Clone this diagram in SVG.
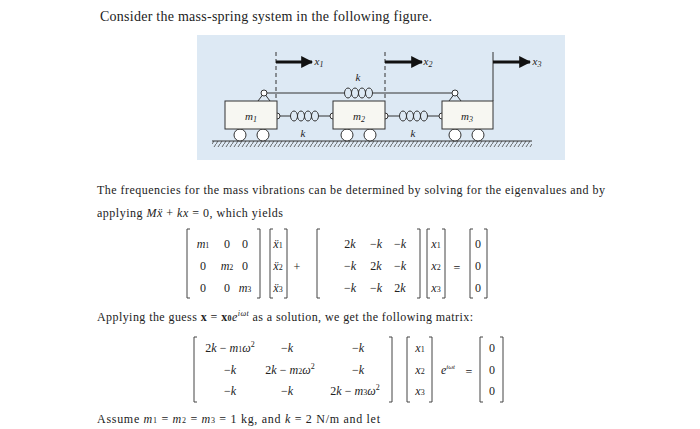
<svg xmlns="http://www.w3.org/2000/svg" width="700" height="429" viewBox="0 0 700 429">
<style>
text{font-family:"Liberation Serif","DejaVu Serif",serif;fill:#222}
.t{font-size:12px}
.m{font-size:12px;text-anchor:middle}
.i{font-style:italic}
.br{fill:none;stroke:#444;stroke-width:1}
.ln{stroke:#333;stroke-width:1;fill:none}
.box{fill:#f7f7f2;stroke:#333;stroke-width:1}
.ring{fill:#fff;stroke:#333;stroke-width:1}
.coil{fill:none;stroke:#333;stroke-width:1}
.fl{font-size:11px;font-style:italic;text-anchor:middle}
</style>
<defs>
<marker id="ah" viewBox="0 0 10 10" refX="9" refY="5" markerWidth="4" markerHeight="4" orient="auto"><path d="M0,0L10,5L0,10z" fill="#111"/></marker>
<pattern id="hatch" width="4" height="6" patternUnits="userSpaceOnUse"><path d="M0,6L4,0" stroke="#444" stroke-width="0.8"/></pattern>
<g id="spr"><ellipse class="coil" cx="4" cy="0" rx="3.5" ry="5"/><ellipse class="coil" cx="11" cy="0" rx="3.5" ry="5"/><ellipse class="coil" cx="18" cy="0" rx="3.5" ry="5"/><ellipse class="coil" cx="25" cy="0" rx="3.5" ry="5"/></g>
</defs>
<rect width="700" height="429" fill="#fff"/>
<text x="100" y="21" style="font-size:14px" textLength="332">Consider the mass-spring system in the following figure.</text>
<g id="figure">
<rect x="197" y="35" width="368" height="125" fill="#dde9f4"/>
<rect x="212" y="141" width="320" height="6" fill="url(#hatch)"/>
<line x1="212" y1="141" x2="532" y2="141" class="ln"/>
<g id="connectors">
<path class="ln" stroke-dasharray="4,3" d="M276,52V101M385,52V101"/>
<path class="ln" d="M493,52V101"/>
<g stroke="#111" stroke-width="3" marker-end="url(#ah)"><line x1="276" y1="62" x2="312" y2="62"/><line x1="385" y1="62" x2="422" y2="62"/><line x1="493" y1="62" x2="530" y2="62"/></g>
<path class="ln" d="M264,93H344M373,93H455M277,116H290M319,116H333M385,116H399M428,116H442"/>
<use href="#spr" x="344" y="93"/><use href="#spr" x="290" y="116"/><use href="#spr" x="399" y="116"/>
<path class="ln" d="M264,93L258,101M264,93L270,101M455,93L449,101M455,93L461,101"/>
<circle class="ring" cx="264" cy="93" r="3"/><circle class="ring" cx="455" cy="93" r="3"/>
<circle class="ring" cx="277" cy="116" r="3"/><circle class="ring" cx="333" cy="116" r="3"/>
<circle class="ring" cx="385" cy="116" r="3"/><circle class="ring" cx="442" cy="116" r="3"/>
</g>
<g id="m1"><circle class="ring" cx="240" cy="135" r="6"/><circle class="ring" cx="263" cy="135" r="6"/><rect class="box" x="225" y="101" width="52" height="28"/><text class="fl" x="251" y="120">m<tspan font-size="8" dy="2">1</tspan></text></g>
<g id="m2"><circle class="ring" cx="347" cy="135" r="6"/><circle class="ring" cx="370" cy="135" r="6"/><rect class="box" x="333" y="101" width="52" height="28"/><text class="fl" x="359" y="120">m<tspan font-size="8" dy="2">2</tspan></text></g>
<g id="m3"><circle class="ring" cx="455" cy="135" r="6"/><circle class="ring" cx="478" cy="135" r="6"/><rect class="box" x="442" y="101" width="51" height="28"/><text class="fl" x="467" y="120">m<tspan font-size="8" dy="2">3</tspan></text></g>
<text class="fl" x="358" y="81">k</text><text class="fl" x="303" y="137">k</text><text class="fl" x="413" y="137">k</text>
<text class="fl" x="319" y="65">x<tspan font-size="8" dy="2">1</tspan></text>
<text class="fl" x="428" y="65">x<tspan font-size="8" dy="2">2</tspan></text>
<text class="fl" x="537" y="65">x<tspan font-size="8" dy="2">3</tspan></text>
</g>
<text class="t" x="97" y="194" textLength="508">The frequencies for the mass vibrations can be determined by solving for the eigenvalues and by</text>
<text class="t" x="97" y="217" textLength="186">applying <tspan class="i">Mẍ</tspan> + <tspan class="i">kx</tspan> = 0, which yields</text>
<g id="eq1">
<path class="br" d="M190,229h-3v69h3M257,229h3v69h-3M273,229h-3v69h3M284,229h3v69h-3M320,229h-3v69h3M417,229h3v69h-3M430,229h-3v69h3M442,229h3v69h-3M473,229h-3v69h3M484,229h3v69h-3"/>
<text class="m" x="203" y="248"><tspan class="i">m</tspan><tspan font-size="8">1</tspan></text><text class="m" x="227" y="248">0</text><text class="m" x="245" y="248">0</text>
<text class="m" x="203" y="270">0</text><text class="m" x="227" y="270"><tspan class="i">m</tspan><tspan font-size="8">2</tspan></text><text class="m" x="245" y="270">0</text>
<text class="m" x="203" y="292">0</text><text class="m" x="227" y="292">0</text><text class="m" x="245" y="292"><tspan class="i">m</tspan><tspan font-size="8">3</tspan></text>
<text class="m i" x="278" y="248">ẍ<tspan font-size="8" font-style="normal">1</tspan></text><text class="m i" x="278" y="270">ẍ<tspan font-size="8" font-style="normal">2</tspan></text><text class="m i" x="278" y="292">ẍ<tspan font-size="8" font-style="normal">3</tspan></text>
<text class="m" x="297" y="271" font-size="15">+</text>
<text class="m" x="350" y="248">2<tspan class="i">k</tspan></text><text class="m" x="376" y="248">−<tspan class="i">k</tspan></text><text class="m" x="400" y="248">−<tspan class="i">k</tspan></text>
<text class="m" x="350" y="270">−<tspan class="i">k</tspan></text><text class="m" x="376" y="270">2<tspan class="i">k</tspan></text><text class="m" x="400" y="270">−<tspan class="i">k</tspan></text>
<text class="m" x="350" y="292">−<tspan class="i">k</tspan></text><text class="m" x="376" y="292">−<tspan class="i">k</tspan></text><text class="m" x="400" y="292">2<tspan class="i">k</tspan></text>
<text class="m i" x="436" y="248">x<tspan font-size="8" font-style="normal">1</tspan></text><text class="m i" x="436" y="270">x<tspan font-size="8" font-style="normal">2</tspan></text><text class="m i" x="436" y="292">x<tspan font-size="8" font-style="normal">3</tspan></text>
<text class="m" x="457" y="272" font-size="15">=</text>
<text class="m" x="478" y="248">0</text><text class="m" x="478" y="270">0</text><text class="m" x="478" y="292">0</text>
</g>
<text class="t" x="97" y="321" textLength="376">Applying the guess <tspan font-weight="bold">x</tspan> = <tspan font-weight="bold">x<tspan font-size="8">0</tspan></tspan><tspan class="i">e</tspan><tspan class="i" font-size="8" dy="-5">iωt</tspan><tspan dy="5"> as a solution, we get the following matrix:</tspan></text>
<g id="eq2">
<path class="br" d="M197,337h-3v65h3M389,337h3v65h-3M410,337h-3v65h3M429,337h3v65h-3M483,337h-3v65h3M500,337h3v65h-3"/>
<text class="m" x="230" y="352">2<tspan class="i">k</tspan> − <tspan class="i">m</tspan><tspan font-size="8">1</tspan><tspan class="i">ω</tspan><tspan font-size="8" dy="-5">2</tspan></text>
<text class="m" x="287" y="352">−<tspan class="i">k</tspan></text><text class="m" x="358" y="352">−<tspan class="i">k</tspan></text>
<text class="m" x="230" y="374">−<tspan class="i">k</tspan></text>
<text class="m" x="290" y="374">2<tspan class="i">k</tspan> − <tspan class="i">m</tspan><tspan font-size="8">2</tspan><tspan class="i">ω</tspan><tspan font-size="8" dy="-5">2</tspan></text>
<text class="m" x="358" y="374">−<tspan class="i">k</tspan></text>
<text class="m" x="230" y="395">−<tspan class="i">k</tspan></text><text class="m" x="287" y="395">−<tspan class="i">k</tspan></text>
<text class="m" x="355" y="395">2<tspan class="i">k</tspan> − <tspan class="i">m</tspan><tspan font-size="8">3</tspan><tspan class="i">ω</tspan><tspan font-size="8" dy="-5">2</tspan></text>
<text class="m i" x="420" y="352">x<tspan font-size="8" font-style="normal">1</tspan></text><text class="m i" x="420" y="374">x<tspan font-size="8" font-style="normal">2</tspan></text><text class="m i" x="420" y="395">x<tspan font-size="8" font-style="normal">3</tspan></text>
<text class="m i" x="448" y="374">e<tspan font-size="7" dy="-5">iωt</tspan></text>
<text class="m" x="469" y="376" font-size="15">=</text>
<text class="m" x="492" y="352">0</text><text class="m" x="492" y="374">0</text><text class="m" x="492" y="395">0</text>
</g>
<text class="t" x="97" y="423" textLength="283">Assume <tspan class="i">m</tspan><tspan font-size="8">1</tspan> = <tspan class="i">m</tspan><tspan font-size="8">2</tspan> = <tspan class="i">m</tspan><tspan font-size="8">3</tspan> = 1 kg, and <tspan class="i">k</tspan> = 2 N/m and let</text>
</svg>
